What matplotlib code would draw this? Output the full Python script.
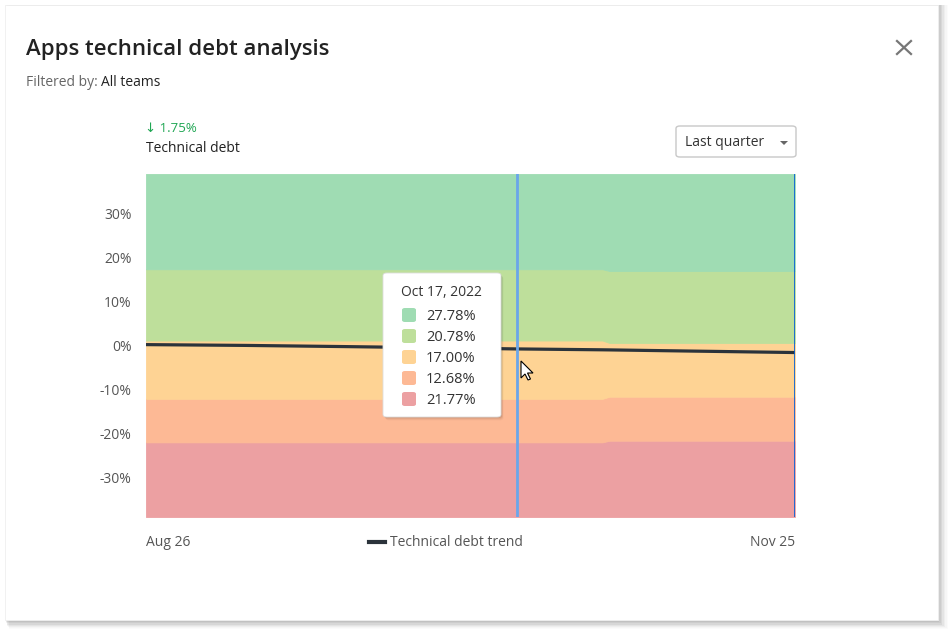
import matplotlib
matplotlib.use("Agg")
import matplotlib.pyplot as plt
from matplotlib.patches import FancyBboxPatch, Rectangle, Polygon
from matplotlib.lines import Line2D
import numpy as np
import datetime as dt

plt.rcParams['font.family'] = ['Open Sans', 'DejaVu Sans']

# ---------------- data ----------------
dates = ["2022-08-26", "2022-09-09", "2022-09-23", "2022-10-07", "2022-10-17",
         "2022-10-29", "2022-10-30", "2022-11-11", "2022-11-25"]
share_green = [27.78, 27.78, 27.78, 27.78, 27.78, 27.78, 28.28, 28.28, 28.28]
share_lightgreen = [20.78, 20.78, 20.78, 20.78, 20.78, 20.78, 20.99, 20.99, 20.99]
share_yellow = [17.00, 17.00, 17.00, 17.00, 17.00, 17.00, 15.66, 15.66, 15.66]
share_orange = [12.68, 12.68, 12.68, 12.68, 12.68, 12.68, 12.83, 12.83, 12.83]
share_red = [21.77, 21.77, 21.77, 21.77, 21.77, 21.77, 22.24, 22.24, 22.24]
trend = [0.20, 0.02, -0.25, -0.55, -0.78, -0.98, -1.00, -1.28, -1.60]
yticks = [-30, -20, -10, 0, 10, 20, 30]
xlabels = ["Aug 26", "Nov 25"]
hover_date = "2022-10-17"
hover_title = "Oct 17, 2022"
hover_values = ["27.78%", "20.78%", "17.00%", "12.68%", "21.77%"]
change_text = "1.75%"

colors = ["#9fdcb3", "#bedf9b", "#fed394", "#fdb995", "#eca0a2"]
line_color = "#2b333b"

W, H = 953, 637
fig = plt.figure(figsize=(W / 100, H / 100), dpi=100)
fig.patch.set_facecolor("white")

def fx(x):
    return x / W

def fy(y):
    return 1 - y / H

# card shadow + card
for i, a in enumerate([0.05, 0.05, 0.05, 0.05, 0.04, 0.03, 0.02, 0.015]):
    fig.add_artist(Rectangle((fx(5 + i * 0.6), fy(621 + i * 1.2)), fx(933 + i * 1.5 - i * 0.6), fy(5) - fy(621 + i * 1.2),
                             transform=fig.transFigure, facecolor="black", alpha=a, edgecolor="none", zorder=-3))
fig.add_artist(Rectangle((fx(5), fy(620)), fx(933), fy(5) - fy(620), transform=fig.transFigure,
                         facecolor="white", edgecolor="#f0f0f0", lw=0.6, zorder=-2))

# ---------------- axes ----------------
ax = fig.add_axes([fx(146), fy(517), fx(795) - fx(146), fy(174) - fy(517)])
ax.set_facecolor("none")
x = [dt.datetime.strptime(d, "%Y-%m-%d") for d in dates]
scale = 0.78
bottom_to_top = [share_red, share_orange, share_yellow, share_lightgreen, share_green]
cols_bt = colors[::-1]
base = np.full(len(x), -39.0)
for s, c in zip(bottom_to_top, cols_bt):
    top = base + np.array(s) * scale
    ax.fill_between(x, base, top, color=c, lw=0.6, edgecolor=c)
    base = top
ax.plot(x, trend, color=line_color, lw=2.3, solid_capstyle="butt", zorder=3)

hx = dt.datetime.strptime(hover_date, "%Y-%m-%d")
ax.axvline(hx, color="#6aa6ea", lw=2, zorder=4)
ax.axvline(x[-1], color="#0b62d5", lw=2, zorder=4)

ax.set_xlim(x[0], x[-1])
ax.set_ylim(-39, 39)
for sp in ax.spines.values():
    sp.set_visible(False)
ax.set_yticks(yticks)
ax.set_yticklabels([f"{v}%" for v in yticks])
ax.tick_params(axis="y", length=0, pad=10.5, labelsize=10, labelcolor="#555555")
ax.set_xticks([x[0], x[-1]])
ax.set_xticklabels(xlabels)
ax.tick_params(axis="x", length=0, pad=13, labelsize=10, labelcolor="#555555")
tl = ax.get_xticklabels()
tl[0].set_ha("left")
tl[1].set_ha("right")

# ---------------- header texts ----------------
fig.text(fx(26), fy(50), "Apps technical debt analysis", fontsize=16, fontweight="semibold",
         color="#222222", va="center", ha="left")
t1 = fig.text(fx(26), fy(83), "Filtered by: ", fontsize=10, color="#666666", va="center", ha="left")
fig.canvas.draw()
bb = t1.get_window_extent()
fig.text(bb.x1 / W, fy(83), "All teams", fontsize=10, color="#222222", va="center", ha="left")

fig.text(fx(145), fy(128), "\u2193 " + change_text, fontsize=9.5, color="#1fa653", va="center", ha="left")
fig.text(fx(146), fy(149), "Technical debt", fontsize=10, color="#222222", va="center", ha="left")

# dropdown
fig.add_artist(FancyBboxPatch((fx(676), fy(157)), fx(796) - fx(676), fy(126) - fy(157),
                              boxstyle="round,pad=0,rounding_size=0.004", transform=fig.transFigure,
                              facecolor="white", edgecolor="#c8c8c8", lw=1))
fig.text(fx(685), fy(143), "Last quarter", fontsize=10, color="#333333", va="center", ha="left")
fig.add_artist(Polygon([(fx(780), fy(141)), (fx(788), fy(141)), (fx(784), fy(145))], closed=True,
                       transform=fig.transFigure, facecolor="#666666", edgecolor="none"))

# close X
for (x0, y0, x1, y1) in [(897, 41, 911, 54), (897, 54, 911, 41)]:
    fig.add_artist(Line2D([fx(x0), fx(x1)], [fy(y0), fy(y1)], transform=fig.transFigure,
                          color="#777777", lw=1.6))

# legend
fig.add_artist(Line2D([fx(369), fx(385)], [fy(542), fy(542)], transform=fig.transFigure,
                      color=line_color, lw=3))
fig.text(fx(390), fy(543), "Technical debt trend", fontsize=10, color="#555555", va="center", ha="left")

# ---------------- tooltip ----------------
for i, a in enumerate([0.06, 0.05, 0.04, 0.03]):
    fig.add_artist(FancyBboxPatch((fx(383 + 1 + i * 0.5), fy(418 + i * 0.8)), fx(118), fy(273) - fy(417),
                                  boxstyle="round,pad=0,rounding_size=0.004", transform=fig.transFigure,
                                  facecolor="black", alpha=a, edgecolor="none", zorder=5))
fig.add_artist(FancyBboxPatch((fx(383), fy(417)), fx(118), fy(273) - fy(417),
                              boxstyle="round,pad=0,rounding_size=0.004", transform=fig.transFigure,
                              facecolor="white", edgecolor="#dddddd", lw=0.6, zorder=6))
fig.text(fx(401), fy(292), hover_title, fontsize=10, color="#333333", va="center", ha="left", zorder=7)
for i, (c, v) in enumerate(zip(colors, hover_values)):
    yc = 315 + i * 21
    fig.add_artist(FancyBboxPatch((fx(402), fy(yc + 7)), fx(14), fy(yc - 7) - fy(yc + 7),
                                  boxstyle="round,pad=0,rounding_size=0.003", transform=fig.transFigure,
                                  facecolor=c, edgecolor="none", zorder=7))
    fig.text(fx(426), fy(yc + 1.5), v, fontsize=10.5, color="#333333", va="center", ha="left", zorder=7)

# mouse cursor
cur = [(0, 0), (0, 17), (4, 13), (7, 19), (9.5, 18), (6.5, 12), (12, 12)]
fig.add_artist(Polygon([(fx(521 + px), fy(361 + py)) for px, py in cur], closed=True,
                       transform=fig.transFigure, facecolor="white", edgecolor="black", lw=0.8, zorder=8))

fig.savefig("out.png", dpi=100, facecolor="white")
